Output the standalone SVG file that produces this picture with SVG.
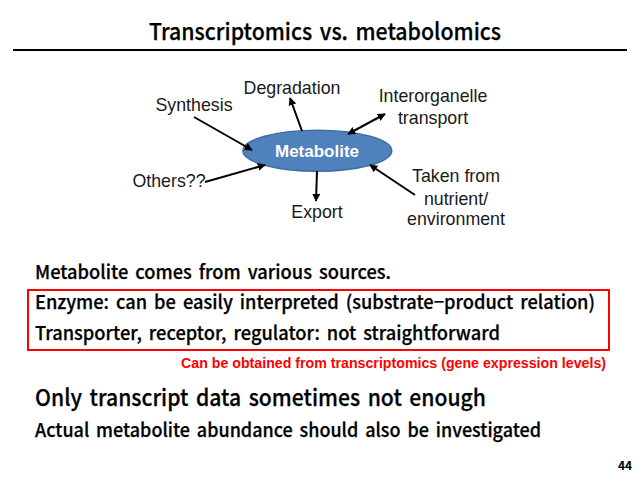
<svg xmlns="http://www.w3.org/2000/svg" width="638" height="478" viewBox="0 0 638 478">
<style>
.lb{font-family:"Liberation Sans",Arial,sans-serif;font-size:17.8px;fill:#1a1a1a;text-anchor:middle}
.jp{font-family:"Noto Sans CJK JP","Noto Sans",sans-serif;font-weight:500;fill:#000;stroke:#000;stroke-width:.25;word-spacing:3px}
.c{fill:none;stroke:#000;stroke-width:2}
.red{font-family:"Liberation Sans",Arial,sans-serif;font-weight:700;font-size:14px;fill:#ff0000}
</style>
<defs>
<marker id="ah" viewBox="0 0 10 10" refX="9" refY="5" markerWidth="4" markerHeight="4" orient="auto-start-reverse" markerUnits="strokeWidth"><path d="M0 0L10 5L0 10z" fill="#000"/></marker>
</defs>
<rect width="638" height="478" fill="#fff"/>
<text class="jp" x="149" y="40" font-size="23" textLength="352" lengthAdjust="spacingAndGlyphs">Transcriptomics vs. metabolomics</text>
<rect x="13" y="49" width="614" height="2" fill="#000"/>
<g id="metabolite">
<ellipse cx="317.3" cy="150.8" rx="74.5" ry="20.5" fill="#4f81bd" stroke="#3f6ea5" stroke-width="1.5"/>
<text x="317" y="157" text-anchor="middle" font-family="Liberation Sans,Arial,sans-serif" font-weight="700" font-size="17" fill="#fff">Metabolite</text>
</g>
<g id="connectors">
<path class="c" d="M194 117L252 150" marker-end="url(#ah)"/>
<path class="c" d="M302 131L290 98" marker-end="url(#ah)"/>
<path class="c" d="M348 134L385 114" marker-start="url(#ah)" marker-end="url(#ah)"/>
<path class="c" d="M205 182L265 165" marker-end="url(#ah)"/>
<path class="c" d="M317 171L316 201" marker-end="url(#ah)"/>
<path class="c" d="M415 195L370 165" marker-end="url(#ah)"/>
</g>
<g id="synthesis"><text class="lb" x="194" y="111">Synthesis</text></g>
<g id="degradation"><text class="lb" x="292" y="94">Degradation</text></g>
<g id="interorganelle"><text class="lb" x="433" y="102">Interorganelle</text><text class="lb" x="433" y="124">transport</text></g>
<g id="others"><text class="lb" x="169" y="187">Others??</text></g>
<g id="export"><text class="lb" x="317" y="218">Export</text></g>
<g id="taken"><text class="lb" x="456" y="182">Taken from</text><text class="lb" x="456" y="205">nutrient/</text><text class="lb" x="456" y="225">environment</text></g>
<text class="jp" x="35" y="279" font-size="19" textLength="356" lengthAdjust="spacingAndGlyphs">Metabolite comes from various sources.</text>
<rect x="28" y="290" width="581" height="60" fill="none" stroke="#ff0000" stroke-width="2"/>
<text class="jp" x="35" y="309" font-size="19" textLength="560" lengthAdjust="spacingAndGlyphs">Enzyme: can be easily interpreted (substrate−product relation)</text>
<text class="jp" x="35" y="340" font-size="19" textLength="465" lengthAdjust="spacingAndGlyphs">Transporter, receptor, regulator: not straightforward</text>
<text class="red" x="181" y="368" textLength="425" lengthAdjust="spacingAndGlyphs">Can be obtained from transcriptomics (gene expression levels)</text>
<text class="jp" x="35" y="406" font-size="23" textLength="451" lengthAdjust="spacingAndGlyphs">Only transcript data sometimes not enough</text>
<text class="jp" x="35" y="437" font-size="19" textLength="506" lengthAdjust="spacingAndGlyphs">Actual metabolite abundance should also be investigated</text>
<text x="625" y="470" text-anchor="middle" font-family="Noto Sans CJK JP,sans-serif" font-weight="700" font-size="12" fill="#000">44</text>
</svg>
